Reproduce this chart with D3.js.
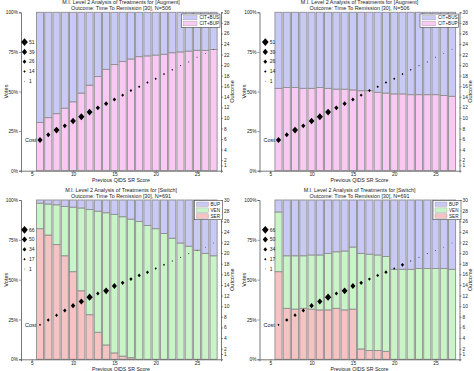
<!DOCTYPE html>
<html>
<head>
<meta charset="utf-8">
<script src="https://cdn.jsdelivr.net/npm/d3@7"></script>
<style>
  body { margin: 0; background: #fff; }
  text { font-family: "Liberation Sans", Arial, sans-serif; fill: #222; }
</style>
</head>
<body>
<svg width="474" height="371"></svg>
<script>
var scores = [6,7,8,9,10,11,12,13,14,15,16,17,18,19,20,21,22,23,24,25,26,27];
var xTicks = [5,10,15,20,25];
var pctTicks = [0,25,50,75,100];
var outcomeTicks = [1,2,4,6,8,10,12,14,16,18,20,22,24,26,28,30];

// augment, left panel (% of votes)
var augL_BUP = [30.5,33.5,36,39.5,43.5,49,54,59.5,64,67,69,70.5,72,72.5,73,73.5,74.5,75,75.5,76,76,76.5];
var augL_BUS = [69.5,66.5,64,60.5,56.5,51,46,40.5,36,33,31,29.5,28,27.5,27,26.5,25.5,25,24.5,24,24,23.5];
// augment, right panel
var augR_BUP = [52,52.5,52.5,52,52,52.5,52,51.5,51.5,51,50.5,50.5,49.5,49,48.5,48.5,48,48,48,48,47.5,47];
var augR_BUS = [48,47.5,47.5,48,48,47.5,48,48.5,48.5,49,49.5,49.5,50.5,51,51.5,51.5,52,52,52,52,52.5,53];
// switch, left panel
var swL_SER = [82,78,72,65,55,43,28,17,9,4,2,1,0,0,0,0,0,0,0,0,0,0];
var swL_VEN = [16,19.5,25,31,40.5,52,66,76,83,87,87.5,87,86.5,84,82,79,76,73,71,68.5,66.5,65];
var swL_BUP = [2,2.5,3,4,4.5,5,6,7,8,9,10.5,12,13.5,16,18,21,24,27,29,31.5,33.5,35];
// switch, right panel
var swR_SER = [55,32,31.5,32,31.5,31,31,32,31,31.5,6.5,5.5,5.5,5,0,0,0,0,0,0,0,0];
var swR_VEN = [37.5,33,33.5,33,34,34.5,35.5,35.5,37,39,60,60.5,60,59.5,56.5,56.5,56.5,57,57,57,57,56.5];
var swR_BUP = [7.5,35,35,35,34.5,34.5,33.5,32.5,32,29.5,33.5,34,34.5,35.5,43.5,43.5,43.5,43,43,43,43,43.5];

// outcome (time to remission) and number of votes for the diamonds
var augOutcome = [5.8,6.8,7.7,8.5,9.4,10.2,11.1,11.9,12.7,13.5,14.3,15.2,15.9,16.7,17.4,18.3,19.1,19.9,20.6,21.5,22.2,23.0];
var swOutcome = [6.5,7.4,8.3,9.2,10.1,10.9,11.7,12.4,12.9,13.8,14.4,15.1,15.8,16.4,17.1,17.8,18.5,19.2,19.9,20.5,21.1,21.9];
var augCount = [38,30,44,30,42,46,44,30,30,24,18,16,14,14,12,10,8,5,4,3,2,1];
var swL_Count = [14,24,24,30,42,50,62,30,56,48,32,28,28,26,16,14,6,5,4,3,2,1];
var swR_Count = [14,28,28,30,42,50,62,30,56,48,32,24,24,28,14,28,6,5,4,3,2,1];
var augSizeTicks = [51,39,26,14,1];
var swSizeTicks = [66,50,34,17,1];

var colors = {"CIT+BUP": "#f9c8f3", "CIT+BUS": "#c9c9f6", "SER": "#f6c2c2", "VEN": "#c8f4c8", "BUP": "#c9c9f6"};

var svg = d3.select("svg");

var panels = [
  {x0: 21, y0: 12.3, h: 158.4, title: "M.I. Level 2 Analysis of Treatments for [Augment]", sub: "Outcome: Time To Remission [30], N=506",
   series: [["CIT+BUP", augL_BUP], ["CIT+BUS", augL_BUS]], outcome: augOutcome, count: augCount, sizeTicks: augSizeTicks, lx: 3.5},
  {x0: 259.5, y0: 12.3, h: 158.4, title: "M.I. Level 2 Analysis of Treatments for [Augment]", sub: "Outcome: Time To Remission [30], N=506",
   series: [["CIT+BUP", augR_BUP], ["CIT+BUS", augR_BUS]], outcome: augOutcome, count: augCount, sizeTicks: augSizeTicks, lx: 5.8},
  {x0: 21, y0: 200, h: 159.3, title: "M.I. Level 2 Analysis of Treatments for [Switch]", sub: "Outcome: Time To Remission [30], N=691",
   series: [["SER", swL_SER], ["VEN", swL_VEN], ["BUP", swL_BUP]], outcome: swOutcome, count: swL_Count, sizeTicks: swSizeTicks, lx: 3.5},
  {x0: 259.5, y0: 200, h: 159.3, title: "M.I. Level 2 Analysis of Treatments for [Switch]", sub: "Outcome: Time To Remission [30], N=691",
   series: [["SER", swR_SER], ["VEN", swR_VEN], ["BUP", swR_BUP]], outcome: swOutcome, count: swR_Count, sizeTicks: swSizeTicks, lx: 5.8}
];

panels.forEach(drawPanel);

function diamond(c, max) {
  var rx = 0.35 + 3.0 * c / max, ry = rx * 1.15;
  return "M0," + (-ry) + "L" + rx + ",0L0," + ry + "L" + (-rx) + ",0Z";
}

function drawPanel(p) {
  var w = 200;
  var x = d3.scaleLinear().domain([3.7, 27.9]).range([p.x0, p.x0 + w]);
  var y = d3.scaleLinear().domain([0, 100]).range([p.y0 + p.h, p.y0]);
  var y2 = d3.scaleLinear().domain([0, 30]).range([p.y0 + p.h, p.y0]);
  var keys = p.series.map(function(s) { return s[0]; });
  var rows = scores.map(function(s, i) {
    var r = {score: s};
    p.series.forEach(function(se) { r[se[0]] = se[1][i]; });
    return r;
  });
  var stacked = d3.stack().keys(keys)(rows);
  var bw = (x(1) - x(0)) * 0.86;
  var max = p.sizeTicks[0];

  var g = svg.append("g");

  g.append("g").selectAll("g").data(stacked).enter().append("g")
    .attr("fill", function(d) { return colors[d.key]; })
    .selectAll("rect").data(function(d) { return d; }).enter().append("rect")
    .attr("x", function(d) { return x(d.data.score) - bw / 2; })
    .attr("width", bw)
    .attr("y", function(d) { return y(d[1]); })
    .attr("height", function(d) { return Math.max(0, y(d[0]) - y(d[1])); })
    .attr("stroke", "#8f8f8f").attr("stroke-width", 0.9);

  // axes
  var ax = g.append("g").attr("transform", "translate(" + p.x0 + ",0)")
    .call(d3.axisLeft(y).tickValues(pctTicks).tickFormat(function(d) { return d + "%"; }).tickSize(2).tickPadding(1));
  var ar = g.append("g").attr("transform", "translate(" + (p.x0 + w) + ",0)")
    .call(d3.axisRight(y2).tickValues(outcomeTicks).tickSize(2).tickPadding(1));
  var ab = g.append("g").attr("transform", "translate(0," + (p.y0 + p.h) + ")")
    .call(d3.axisBottom(x).tickValues(xTicks).tickSize(2).tickPadding(0.3));
  [ax, ar, ab].forEach(function(a) {
    a.select(".domain").attr("stroke", "#555").attr("stroke-width", 0.8);
    a.selectAll(".tick line").attr("stroke", "#555").attr("stroke-width", 0.6);
    a.selectAll("text").attr("font-size", 4.8).attr("fill", "#333").style("font-family", "Liberation Sans, Arial, sans-serif");
  });

  // cost diamonds
  g.append("g").selectAll("path").data(scores).enter().append("path")
    .attr("transform", function(d, i) { return "translate(" + x(d) + "," + y2(p.outcome[i]) + ")"; })
    .attr("d", function(d, i) { return diamond(p.count[i], max); })
    .attr("fill", "#000");

  g.append("text").attr("x", p.x0 + 4).attr("y", y2(p.outcome[0]) + 1.8)
    .attr("font-size", 5.5).text("Cost");

  // size legend
  var sl = g.append("g").selectAll("g").data(p.sizeTicks).enter().append("g")
    .attr("transform", function(d, i) { return "translate(" + (p.x0 + p.lx) + "," + (p.y0 + 29.8 + i * 9.8) + ")"; });
  sl.append("path").attr("d", function(d) { return diamond(d, max); }).attr("fill", "#000");
  sl.append("text").attr("x", 4.5).attr("y", 1.7).attr("font-size", 5).text(function(d) { return d; });

  // series legend
  var items = keys.slice().reverse();
  var lw = items.length == 2 ? 38.5 : 28;
  var lx0 = p.x0 + w - lw - 1 + (items.length == 3 ? 2.5 : 0);
  var ly0 = p.y0 + (items.length == 2 ? 1.7 : 0.5);
  g.append("rect").attr("x", lx0).attr("y", ly0).attr("width", lw).attr("height", items.length * 5.9 + 1.5)
    .attr("fill", "#fff").attr("stroke", "#444").attr("stroke-width", 0.6);
  var li = g.append("g").selectAll("g").data(items).enter().append("g")
    .attr("transform", function(d, i) { return "translate(" + (lx0 + 2) + "," + (ly0 + 3.7 + i * 5.9) + ")"; });
  li.append("rect").attr("x", 0).attr("y", -2.2).attr("width", items.length == 2 ? 13.5 : 12).attr("height", 4.4)
    .attr("fill", function(d) { return colors[d]; }).attr("stroke", "#999").attr("stroke-width", 0.4);
  li.append("text").attr("x", items.length == 2 ? 16 : 14).attr("y", 1.7).attr("font-size", 4.6).text(function(d) { return d; });

  // titles and labels
  var cx = p.x0 + w / 2;
  g.append("text").attr("x", cx).attr("y", p.y0 - 8.4).attr("text-anchor", "middle").attr("font-size", 5.4).text(p.title);
  g.append("text").attr("x", cx).attr("y", p.y0 - 2.4).attr("text-anchor", "middle").attr("font-size", 5.4).text(p.sub);
  g.append("text").attr("x", cx).attr("y", p.y0 + p.h + 11.2).attr("text-anchor", "middle").attr("font-size", 5.2).text("Previous QIDS SR Score");
  g.append("text").attr("transform", "translate(" + (p.x0 - 13.5) + "," + (p.y0 + p.h / 2) + ") rotate(-90)")
    .attr("text-anchor", "middle").attr("font-size", 5.6).text("Votes");
  g.append("text").attr("transform", "translate(" + (p.x0 + w + 12.5) + "," + (p.y0 + p.h / 2) + ") rotate(-90)")
    .attr("text-anchor", "middle").attr("font-size", 5.6).text("Outcome");
}
</script>
</body>
</html>
